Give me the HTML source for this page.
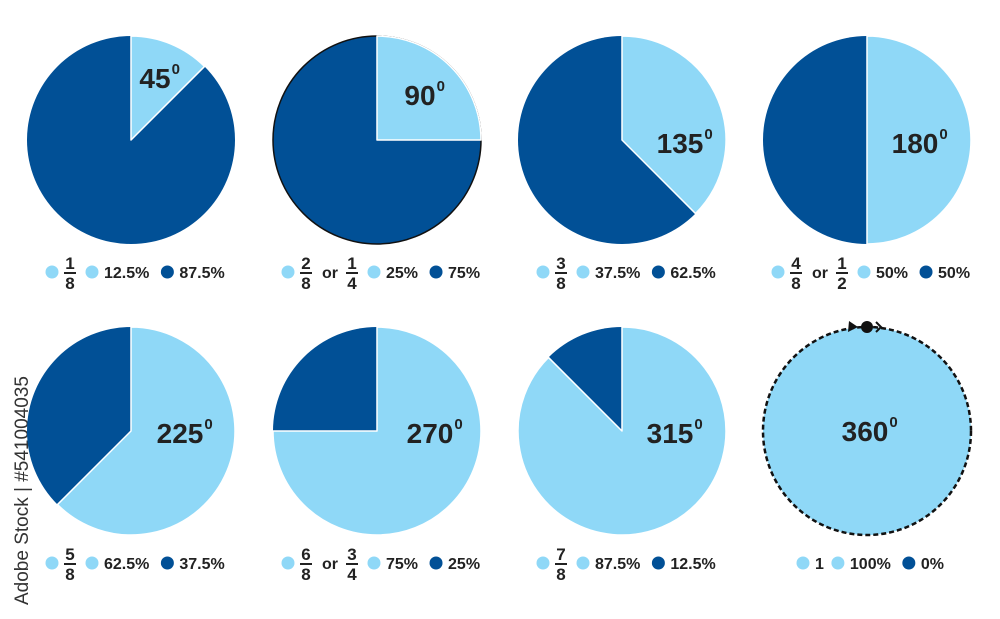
<!DOCTYPE html>
<html><head><meta charset="utf-8"><style>
html,body{margin:0;padding:0;background:#fff;}
svg{display:block;font-family:"Liberation Sans",Arial,sans-serif;}
</style></head><body>
<svg id="chart" width="1000" height="619" viewBox="0 0 1000 619" xmlns="http://www.w3.org/2000/svg">
<text transform="translate(28,605) rotate(-90)" font-size="19" fill="#333">Adobe Stock  |  #541004035</text>
</svg>
<script>
// data
const angles = [45, 90, 135, 180, 225, 270, 315, 360];
const fractionsA = ["1/8", "2/8", "3/8", "4/8", "5/8", "6/8", "7/8", "1"];
const fractionsB = ["", "1/4", "", "1/2", "", "3/4", "", ""];
const lightPct = ["12.5%", "25%", "37.5%", "50%", "62.5%", "75%", "87.5%", "100%"];
const darkPct = ["87.5%", "75%", "62.5%", "50%", "37.5%", "25%", "12.5%", "0%"];

const LIGHT = "#8fd8f7", DARK = "#015096";
const svg = document.getElementById('chart');
const NS = "http://www.w3.org/2000/svg";
const cols = [131, 377, 622, 867], rows = [140, 431], R = 104;
const labelPos = [[155,78],[420,95],[680,143],[915,143],[180,433],[430,433],[670,433],[865,431]];
function mk(tag, attrs, parent){const e=document.createElementNS(NS,tag);for(const k in attrs)e.setAttribute(k,attrs[k]);(parent||svg).appendChild(e);return e;}
function pt(cx,cy,deg){const a=(deg-90)*Math.PI/180;return [cx+R*Math.cos(a),cy+R*Math.sin(a)];}

angles.forEach((ang,i)=>{
  const cx=cols[i%4], cy=rows[Math.floor(i/4)];
  const g=mk('g',{});
  
  
  if(ang>=360){
    const c=mk('circle',{cx:cx,cy:cy,r:R,fill:LIGHT,stroke:"#111","stroke-width":2.5,"stroke-dasharray":"5 3"},g);
    
    
    const d=mk('circle',{cx:cx,cy:cy-R,r:6,fill:"#111"},g);
    
    
    const ar=mk('path',{d:`M${cx-18} ${cy-R-6} L${cx-9} ${cy-R} L${cx-19} ${cy-R+5} Z`,fill:"#111"},g);
    
    
    const ar2=mk('path',{d:`M${cx+9} ${cy-R-5} L${cx+14} ${cy-R} L${cx+9} ${cy-R+5}`,fill:"none",stroke:"#111","stroke-width":2},g);
    
    
  } else {
    const bg=mk('circle',{cx:cx,cy:cy,r:R,fill:DARK},g);
    if(ang===90){bg.setAttribute('stroke','#111');bg.setAttribute('stroke-width','1.5');}
    
    
    const [x1,y1]=pt(cx,cy,0),[x2,y2]=pt(cx,cy,ang);
    const large=ang>180?1:0;
    const s=mk('path',{d:`M${cx} ${cy} L${x1} ${y1} A${R} ${R} 0 ${large} 1 ${x2} ${y2} Z`,fill:LIGHT,stroke:"#fff","stroke-width":1.5,"stroke-linejoin":"round"},g);
    
    
  }
  const [lx,ly]=labelPos[i];
  const t=mk('text',{x:lx,y:ly+10,"text-anchor":"middle","font-size":28,"font-weight":"bold",fill:"#222"},g);
  
  
  t.textContent=ang;
  const bb=t.getBBox();
  const sup=mk('text',{x:bb.x+bb.width+1,y:ly-4,"font-size":15,"font-weight":"bold",fill:"#222"},g);
  
  
  sup.textContent="0";

  // legend
  const lgY = cy + 132;
  const lg=mk('g',{});
  
  
  let x=0;
  function dot(col){const c=mk('circle',{cx:x+6,cy:lgY,r:6.5,fill:col},lg);x+=18;}
  function txt(s){const e=mk('text',{x:x,y:lgY+6,"font-size":16,"font-weight":"bold",fill:"#222"},lg);e.textContent=s;x+=e.getComputedTextLength()+8;}
  function frac(s){
    const p=s.split('/');
    if(p.length<2){txt(s);return;}
    const w=12;
    const a=mk('text',{x:x+w/2,y:lgY-3,"text-anchor":"middle","font-size":17,"font-weight":"bold",fill:"#222"},lg);a.textContent=p[0];
    
    mk('line',{x1:x,x2:x+w,y1:lgY+1,y2:lgY+1,stroke:"#222","stroke-width":2},lg);
    const b=mk('text',{x:x+w/2,y:lgY+17,"text-anchor":"middle","font-size":17,"font-weight":"bold",fill:"#222"},lg);b.textContent=p[1];
    
    x+=w+10;
  }
  dot(LIGHT); frac(fractionsA[i]);
  if(fractionsB[i]){txt("or"); frac(fractionsB[i]);}
  dot(LIGHT); txt(lightPct[i]); x+=4; dot(DARK); txt(darkPct[i]);
  lg.setAttribute('transform',`translate(${cx-85+(fractionsB[i]?-10:0)+(i===7?15:0)},0)`);
});
</script>
</body></html>
